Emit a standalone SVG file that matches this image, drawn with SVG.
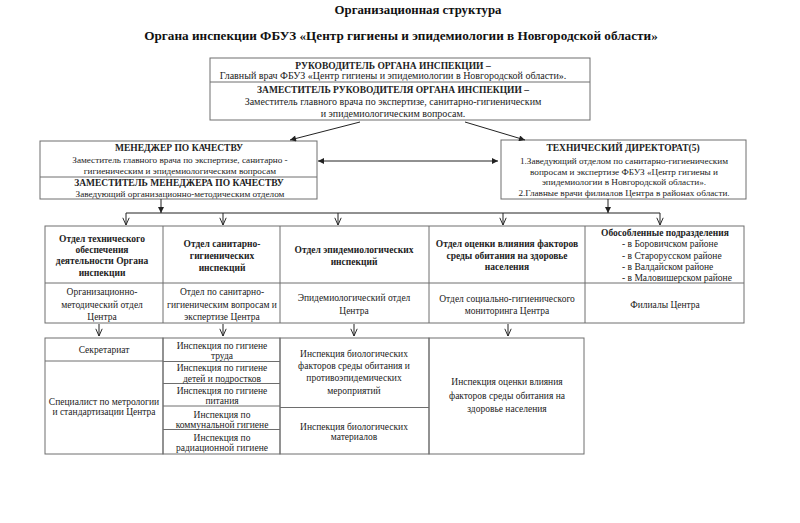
<svg xmlns="http://www.w3.org/2000/svg" width="800" height="523" viewBox="0 0 800 523">
<style>
.box{fill:none;stroke:#6e6e6e;stroke-width:1}
.t{font-family:"Liberation Serif","Times New Roman",serif;font-size:9.5px;fill:#222;text-anchor:middle}
.b{font-weight:bold}
.top{font-size:10px}
.sm{font-size:9.2px}
.h{font-family:"Liberation Serif","Times New Roman",serif;font-weight:bold;fill:#111;text-anchor:middle}
.conn{stroke:#222;stroke-width:1;fill:none}
</style>
<defs>
<marker id="arr" viewBox="0 0 10 10" refX="10" refY="5" markerWidth="8" markerHeight="6" markerUnits="userSpaceOnUse" orient="auto-start-reverse">
<path d="M0,0 L10,5 L0,10 z" fill="#222"/>
</marker>
<marker id="varr" viewBox="0 0 10 10" refX="10" refY="5" markerWidth="8" markerHeight="8" markerUnits="userSpaceOnUse" orient="auto">
<path d="M1,1 L10,5 L1,9" fill="none" stroke="#222" stroke-width="1.2"/>
</marker>
</defs>
<rect width="800" height="523" fill="#fff"/>
<g id="title">
<text class="h" x="418" y="14" font-size="12.8">Организационная структура</text>
<text class="h" x="401" y="40" font-size="13.2">Органа инспекции ФБУЗ «Центр гигиены и эпидемиологии в Новгородской области»</text>
</g>
<g id="head">
<rect class="box" x="210" y="58" width="380" height="62"/>
<line class="box" x1="210" y1="82" x2="590" y2="82"/>
<text class="t b" x="393" y="68.5" font-size="11">РУКОВОДИТЕЛЬ ОРГАНА ИНСПЕКЦИИ –</text>
<text class="t top" x="393" y="79">Главный врач ФБУЗ «Центр гигиены и эпидемиологии в Новгородской области».</text>
<text class="t b" x="393" y="92.5" font-size="10.4">ЗАМЕСТИТЕЛЬ РУКОВОДИТЕЛЯ ОРГАНА ИНСПЕКЦИИ –</text>
<text class="t top" x="393" y="105">Заместитель главного врача по экспертизе, санитарно-гигиеническим</text>
<text class="t top" x="393" y="116.5">и эпидемиологическим вопросам.</text>
</g>
<g id="manager">
<rect class="box" x="40" y="141" width="277" height="58"/>
<line class="box" x1="40" y1="177" x2="317" y2="177"/>
<text class="t b" x="179" y="151">МЕНЕДЖЕР ПО КАЧЕСТВУ</text>
<text class="t sm" x="180" y="162.5">Заместитель главного врача по экспертизе, санитарно -</text>
<text class="t sm" x="180" y="173.5">гигиеническим и эпидемиологическим вопросам</text>
<text class="t b" x="179" y="186">ЗАМЕСТИТЕЛЬ МЕНЕДЖЕРА ПО КАЧЕСТВУ</text>
<text class="t sm" x="180" y="197">Заведующий организационно-методическим отделом</text>
</g>
<g id="techdir">
<rect class="box" x="501" y="140" width="245" height="59"/>
<text class="t b" x="623" y="151">ТЕХНИЧЕСКИЙ ДИРЕКТОРАТ(5)</text>
<text class="t sm" x="624" y="164">1.Заведующий отделом по санитарно-гигиеническим</text>
<text class="t sm" x="624" y="175">вопросам  и экспертизе ФБУЗ «Центр гигиены и</text>
<text class="t sm" x="624" y="185">эпидемиологии в Новгородской области».</text>
<text class="t sm" x="624" y="196">2.Главные врачи филиалов Центра в районах области.</text>
</g>
<g id="dep-row">
<rect class="box" x="45" y="226" width="699" height="97"/>
<line class="box" x1="45" y1="283" x2="744" y2="283"/>
<line class="box" x1="163" y1="226" x2="163" y2="323"/>
<line class="box" x1="280" y1="226" x2="280" y2="323"/>
<line class="box" x1="429" y1="226" x2="429" y2="323"/>
<line class="box" x1="585" y1="226" x2="585" y2="323"/>
</g>
<g id="dep-tech">
<text class="t b" x="102" y="241.5">Отдел технического</text>
<text class="t b" x="102" y="252.5">обеспечения</text>
<text class="t b" x="102" y="264">деятельности  Органа</text>
<text class="t b" x="102" y="276">инспекции</text>
<text class="t" x="102" y="294.5">Организационно-</text>
<text class="t" x="102" y="307.5">методический отдел</text>
<text class="t" x="102" y="320">Центра</text>
</g>
<g id="dep-san">
<text class="t b" x="222" y="246.5">Отдел санитарно-</text>
<text class="t b" x="222" y="259">гигиенических</text>
<text class="t b" x="222" y="270.5">инспекций</text>
<text class="t" x="222" y="294.5">Отдел по санитарно-</text>
<text class="t" x="222" y="307.5">гигиеническим вопросам и</text>
<text class="t" x="222" y="320">экспертизе Центра</text>
</g>
<g id="dep-epid">
<text class="t b" x="354" y="252.5">Отдел эпидемиологических</text>
<text class="t b" x="354" y="265">инспекций</text>
<text class="t" x="354" y="301">Эпидемиологический отдел</text>
<text class="t" x="354" y="314">Центра</text>
</g>
<g id="dep-eval">
<text class="t b" x="507" y="247">Отдел оценки влияния факторов</text>
<text class="t b" x="507" y="259">среды обитания на здоровье</text>
<text class="t b" x="507" y="270">населения</text>
<text class="t" x="507" y="301.5">Отдел социально-гигиенического</text>
<text class="t" x="507" y="314">мониторинга Центра</text>
</g>
<g id="dep-branch">
<text class="t b" x="665" y="235.5">Обособленные подразделения</text>
<text class="t" x="622" y="247" style="text-anchor:start">- в Боровичском районе</text>
<text class="t" x="622" y="259" style="text-anchor:start">- в Старорусском районе</text>
<text class="t" x="622" y="270" style="text-anchor:start">- в Валдайском районе</text>
<text class="t" x="622" y="281" style="text-anchor:start">- в Маловишерском районе</text>
<text class="t" x="665" y="307.5">Филиалы Центра</text>
</g>
<g id="bottom-tech">
<rect class="box" x="45" y="338" width="118" height="116"/>
<line class="box" x1="45" y1="361" x2="163" y2="361"/>
<text class="t" x="104" y="352.5">Секретариат</text>
<text class="t" x="104" y="405">Специалист по метрологии</text>
<text class="t" x="104" y="415">и стандартизации Центра</text>
</g>
<g id="bottom-san">
<rect class="box" x="163" y="338" width="117" height="116"/>
<line class="box" x1="163" y1="361.5" x2="280" y2="361.5"/>
<line class="box" x1="163" y1="383.5" x2="280" y2="383.5"/>
<line class="box" x1="163" y1="406" x2="280" y2="406"/>
<line class="box" x1="163" y1="429.5" x2="280" y2="429.5"/>
<text class="t" x="222" y="348.5">Инспекция по гигиене</text>
<text class="t" x="222" y="358.5">труда</text>
<text class="t" x="222" y="370.5">Инспекция по гигиене</text>
<text class="t" x="222" y="381.5">детей и подростков</text>
<text class="t" x="222" y="394">Инспекция по гигиене</text>
<text class="t" x="222" y="403.5">питания</text>
<text class="t" x="222" y="417.5">Инспекция по</text>
<text class="t" x="222" y="427.5">коммунальной гигиене</text>
<text class="t" x="222" y="440.5">Инспекция по</text>
<text class="t" x="222" y="450.5">радиационной гигиене</text>
</g>
<g id="bottom-epid">
<rect class="box" x="280" y="338" width="149" height="116"/>
<line class="box" x1="280" y1="407.5" x2="429" y2="407.5"/>
<text class="t" x="354" y="356.5">Инспекция биологических</text>
<text class="t" x="354" y="368.5">факторов  среды обитания и</text>
<text class="t" x="354" y="380.5">противоэпидемических</text>
<text class="t" x="354" y="393.5">мероприятий</text>
<text class="t" x="354" y="429.5">Инспекция биологических</text>
<text class="t" x="354" y="440">материалов</text>
</g>
<g id="bottom-eval">
<rect class="box" x="429" y="338" width="155" height="116"/>
<text class="t" x="507" y="385">Инспекция оценки влияния</text>
<text class="t" x="507" y="398.5">факторов среды обитания на</text>
<text class="t" x="507" y="411.5">здоровье населения</text>
</g>
<g id="connectors">
<line class="conn" x1="360" y1="122" x2="290" y2="140" marker-end="url(#arr)"/>
<line class="conn" x1="465" y1="122" x2="525" y2="140" marker-end="url(#arr)"/>
<line class="conn" x1="318" y1="161" x2="498" y2="161" marker-start="url(#arr)" marker-end="url(#arr)"/>
<line class="conn" x1="161" y1="199" x2="161" y2="213" marker-end="url(#arr)"/>
<line class="conn" x1="608" y1="199" x2="608" y2="213" marker-end="url(#arr)"/>
<line class="conn" x1="126" y1="213" x2="660" y2="213"/>
<line class="conn" x1="126" y1="213" x2="126" y2="225" marker-end="url(#varr)"/>
<line class="conn" x1="223" y1="213" x2="223" y2="225" marker-end="url(#varr)"/>
<line class="conn" x1="338" y1="213" x2="338" y2="225" marker-end="url(#varr)"/>
<line class="conn" x1="503" y1="213" x2="503" y2="225" marker-end="url(#varr)"/>
<line class="conn" x1="660" y1="213" x2="660" y2="225" marker-end="url(#varr)"/>
<line class="conn" x1="99" y1="324" x2="99" y2="336" marker-end="url(#varr)"/>
<line class="conn" x1="223" y1="324" x2="223" y2="336" marker-end="url(#varr)"/>
<line class="conn" x1="354" y1="324" x2="354" y2="336" marker-end="url(#varr)"/>
<line class="conn" x1="508" y1="324" x2="508" y2="336" marker-end="url(#varr)"/>
</g>
</svg>
